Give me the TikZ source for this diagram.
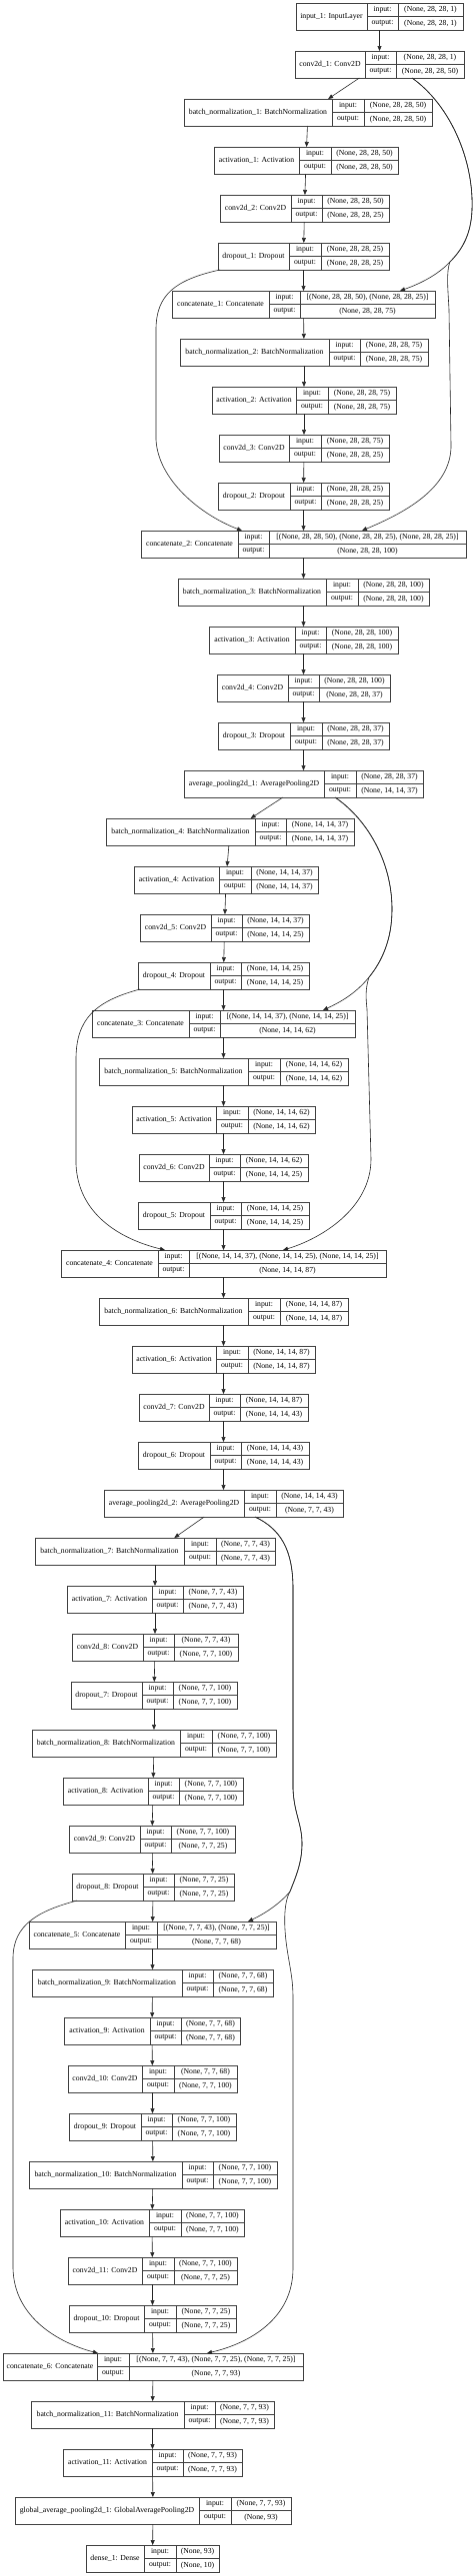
\documentclass[tikz,border=0pt]{standalone}
\usepackage{fontspec}
\setmainfont{Liberation Serif}
\usetikzlibrary{arrows.meta}
\tikzset{
  boxline/.style={draw=black!75, line width=0.7pt},
  layer/.style={boxline, inner sep=0pt, outer sep=0pt, minimum height=27pt},
  txt/.style={inner sep=0pt, font=\fontsize{7.7}{9}\selectfont},
  arr/.style={-{Triangle[length=5pt,width=4pt]}, line width=0.6pt, draw=black!85},
}
\newcommand\layerbox[9]{%
  \pgfmathsetmacro\ytop{3+48*#2}%
  \pgfmathsetmacro\ybot{\ytop+27}%
  \pgfmathsetmacro\ymid{\ytop+13.5}%
  \pgfmathsetmacro\yup{\ytop+6.75}%
  \pgfmathsetmacro\ylo{\ytop+20.25}%
  \node[layer, minimum width={(#6-#3)*1pt}] (#1) at ({(#3+#6)/2},\ymid) {};
  \draw[boxline] (#4,\ytop) -- (#4,\ybot) (#5,\ytop) -- (#5,\ybot) (#4,\ymid) -- (#6,\ymid);
  \node[txt] (#1-t) at ({(#3+#4)/2},\ymid) {#7};
  \node[txt] (#1-i) at ({(#4+#5)/2},\yup) {input:};
  \node[txt] (#1-o) at ({(#4+#5)/2},\ylo) {output:};
  \node[txt] (#1-iv) at ({(#5+#6)/2},\yup) {#8};
  \node[txt] (#1-ov) at ({(#5+#6)/2},\ylo) {#9};
}
\begin{document}
\begin{tikzpicture}[x=1pt,y=-1pt]
\useasboundingbox (0,0) rectangle (474,2578);
\layerbox{n0}{0}{296}{367}{398}{463}{input\_1: InputLayer}{(None, 28, 28, 1)}{(None, 28, 28, 1)}
\layerbox{n1}{1}{295}{365}{396}{464}{conv2d\_1: Conv2D}{(None, 28, 28, 1)}{(None, 28, 28, 50)}
\layerbox{n2}{2}{184}{332}{364}{432}{batch\_normalization\_1: BatchNormalization}{(None, 28, 28, 50)}{(None, 28, 28, 50)}
\layerbox{n3}{3}{214}{299}{331}{398}{activation\_1: Activation}{(None, 28, 28, 50)}{(None, 28, 28, 50)}
\layerbox{n4}{4}{220}{291}{322}{389}{conv2d\_2: Conv2D}{(None, 28, 28, 50)}{(None, 28, 28, 25)}
\layerbox{n5}{5}{218}{289}{321}{389}{dropout\_1: Dropout}{(None, 28, 28, 25)}{(None, 28, 28, 25)}
\layerbox{n6}{6}{172}{269}{300}{435}{concatenate\_1: Concatenate}{[(None, 28, 28, 50), (None, 28, 28, 25)]}{(None, 28, 28, 75)}
\layerbox{n7}{7}{180}{329}{360}{428}{batch\_normalization\_2: BatchNormalization}{(None, 28, 28, 75)}{(None, 28, 28, 75)}
\layerbox{n8}{8}{212}{296}{328}{396}{activation\_2: Activation}{(None, 28, 28, 75)}{(None, 28, 28, 75)}
\layerbox{n9}{9}{219}{289}{321}{389}{conv2d\_3: Conv2D}{(None, 28, 28, 75)}{(None, 28, 28, 25)}
\layerbox{n10}{10}{218}{290}{321}{389}{dropout\_2: Dropout}{(None, 28, 28, 25)}{(None, 28, 28, 25)}
\layerbox{n11}{11}{141}{238}{269}{466}{concatenate\_2: Concatenate}{[(None, 28, 28, 50), (None, 28, 28, 25), (None, 28, 28, 25)]}{(None, 28, 28, 100)}
\layerbox{n12}{12}{178}{326}{358}{429}{batch\_normalization\_3: BatchNormalization}{(None, 28, 28, 100)}{(None, 28, 28, 100)}
\layerbox{n13}{13}{209}{295}{326}{398}{activation\_3: Activation}{(None, 28, 28, 100)}{(None, 28, 28, 100)}
\layerbox{n14}{14}{217}{288}{319}{390}{conv2d\_4: Conv2D}{(None, 28, 28, 100)}{(None, 28, 28, 37)}
\layerbox{n15}{15}{218}{290}{322}{389}{dropout\_3: Dropout}{(None, 28, 28, 37)}{(None, 28, 28, 37)}
\layerbox{n16}{16}{184}{324}{356}{423}{average\_pooling2d\_1: AveragePooling2D}{(None, 28, 28, 37)}{(None, 14, 14, 37)}
\layerbox{n17}{17}{106}{255}{286}{354}{batch\_normalization\_4: BatchNormalization}{(None, 14, 14, 37)}{(None, 14, 14, 37)}
\layerbox{n18}{18}{134}{219}{251}{318}{activation\_4: Activation}{(None, 14, 14, 37)}{(None, 14, 14, 37)}
\layerbox{n19}{19}{140}{211}{242}{309}{conv2d\_5: Conv2D}{(None, 14, 14, 37)}{(None, 14, 14, 25)}
\layerbox{n20}{20}{138}{210}{241}{309}{dropout\_4: Dropout}{(None, 14, 14, 25)}{(None, 14, 14, 25)}
\layerbox{n21}{21}{92}{189}{220}{355}{concatenate\_3: Concatenate}{[(None, 14, 14, 37), (None, 14, 14, 25)]}{(None, 14, 14, 62)}
\layerbox{n22}{22}{99}{248}{280}{348}{batch\_normalization\_5: BatchNormalization}{(None, 14, 14, 62)}{(None, 14, 14, 62)}
\layerbox{n23}{23}{132}{216}{248}{315}{activation\_5: Activation}{(None, 14, 14, 62)}{(None, 14, 14, 62)}
\layerbox{n24}{24}{139}{209}{240}{308}{conv2d\_6: Conv2D}{(None, 14, 14, 62)}{(None, 14, 14, 25)}
\layerbox{n25}{25}{138}{210}{241}{309}{dropout\_5: Dropout}{(None, 14, 14, 25)}{(None, 14, 14, 25)}
\layerbox{n26}{26}{61}{158}{189}{386}{concatenate\_4: Concatenate}{[(None, 14, 14, 37), (None, 14, 14, 25), (None, 14, 14, 25)]}{(None, 14, 14, 87)}
\layerbox{n27}{27}{99}{248}{280}{348}{batch\_normalization\_6: BatchNormalization}{(None, 14, 14, 87)}{(None, 14, 14, 87)}
\layerbox{n28}{28}{132}{216}{248}{315}{activation\_6: Activation}{(None, 14, 14, 87)}{(None, 14, 14, 87)}
\layerbox{n29}{29}{139}{209}{240}{308}{conv2d\_7: Conv2D}{(None, 14, 14, 87)}{(None, 14, 14, 43)}
\layerbox{n30}{30}{138}{210}{241}{309}{dropout\_6: Dropout}{(None, 14, 14, 43)}{(None, 14, 14, 43)}
\layerbox{n31}{31}{104}{244}{276}{343}{average\_pooling2d\_2: AveragePooling2D}{(None, 14, 14, 43)}{(None, 7, 7, 43)}
\layerbox{n32}{32}{35}{184}{216}{275}{batch\_normalization\_7: BatchNormalization}{(None, 7, 7, 43)}{(None, 7, 7, 43)}
\layerbox{n33}{33}{67}{152}{183}{243}{activation\_7: Activation}{(None, 7, 7, 43)}{(None, 7, 7, 43)}
\layerbox{n34}{34}{72}{143}{174}{238}{conv2d\_8: Conv2D}{(None, 7, 7, 43)}{(None, 7, 7, 100)}
\layerbox{n35}{35}{71}{142}{173}{237}{dropout\_7: Dropout}{(None, 7, 7, 100)}{(None, 7, 7, 100)}
\layerbox{n36}{36}{32}{180}{212}{276}{batch\_normalization\_8: BatchNormalization}{(None, 7, 7, 100)}{(None, 7, 7, 100)}
\layerbox{n37}{37}{63}{148}{179}{243}{activation\_8: Activation}{(None, 7, 7, 100)}{(None, 7, 7, 100)}
\layerbox{n38}{38}{69}{140}{171}{235}{conv2d\_9: Conv2D}{(None, 7, 7, 100)}{(None, 7, 7, 25)}
\layerbox{n39}{39}{72}{143}{174}{234}{dropout\_8: Dropout}{(None, 7, 7, 25)}{(None, 7, 7, 25)}
\layerbox{n40}{40}{29}{125}{157}{276}{concatenate\_5: Concatenate}{[(None, 7, 7, 43), (None, 7, 7, 25)]}{(None, 7, 7, 68)}
\layerbox{n41}{41}{32}{182}{213}{273}{batch\_normalization\_9: BatchNormalization}{(None, 7, 7, 68)}{(None, 7, 7, 68)}
\layerbox{n42}{42}{64}{150}{181}{240}{activation\_9: Activation}{(None, 7, 7, 68)}{(None, 7, 7, 68)}
\layerbox{n43}{43}{68}{142}{174}{237}{conv2d\_10: Conv2D}{(None, 7, 7, 68)}{(None, 7, 7, 100)}
\layerbox{n44}{44}{69}{141}{172}{236}{dropout\_9: Dropout}{(None, 7, 7, 100)}{(None, 7, 7, 100)}
\layerbox{n45}{45}{29}{182}{213}{277}{batch\_normalization\_10: BatchNormalization}{(None, 7, 7, 100)}{(None, 7, 7, 100)}
\layerbox{n46}{46}{60}{149}{181}{244}{activation\_10: Activation}{(None, 7, 7, 100)}{(None, 7, 7, 100)}
\layerbox{n47}{47}{68}{142}{174}{237}{conv2d\_11: Conv2D}{(None, 7, 7, 100)}{(None, 7, 7, 25)}
\layerbox{n48}{48}{69}{144}{176}{236}{dropout\_10: Dropout}{(None, 7, 7, 25)}{(None, 7, 7, 25)}
\layerbox{n49}{49}{3}{97}{129}{303}{concatenate\_6: Concatenate}{[(None, 7, 7, 43), (None, 7, 7, 25), (None, 7, 7, 25)]}{(None, 7, 7, 93)}
\layerbox{n50}{50}{31}{184}{215}{274}{batch\_normalization\_11: BatchNormalization}{(None, 7, 7, 93)}{(None, 7, 7, 93)}
\layerbox{n51}{51}{63}{152}{183}{242}{activation\_11: Activation}{(None, 7, 7, 93)}{(None, 7, 7, 93)}
\layerbox{n52}{52}{15}{199}{231}{291}{global\_average\_pooling2d\_1: GlobalAveragePooling2D}{(None, 7, 7, 93)}{(None, 93)}
\layerbox{n53}{53}{86}{144}{176}{219}{dense\_1: Dense}{(None, 93)}{(None, 10)}
% main chain
\foreach \i [evaluate=\i as \j using int(\i+1)] in {0,...,52} {\draw[arr] (n\i) -- (n\j);}
% block 1 skips
\draw[arr] ([xshift=32.5pt]n1.south) .. controls (450,105) and (474,160) .. (472,210) .. controls (471,235) and (462,250) .. (450,262) .. controls (438,275) and (420,284) .. ([xshift=96.5pt]n6.north);
\draw[arr] ([xshift=32.5pt]n1.south) .. controls (450,105) and (474,160) .. (472,210) .. controls (471,235) and (462,250) .. (450,262) .. controls (446,272) and (448,290) .. (449,310) -- (451,445) .. controls (452,490) and (400,515) .. ([xshift=58.5pt]n11.north);
\draw[arr] ([xshift=-83.5pt]n5.south) .. controls (175,280) and (156,295) .. (156,330) -- (156,440) .. controls (158,480) and (200,515) .. ([xshift=-61.5pt]n11.north);
% block 2 skips
\draw[arr] ([xshift=31.5pt]n16.south) .. controls (365,818) and (392,860) .. (392,910) .. controls (392,940) and (382,962) .. (369,978) .. controls (355,995) and (340,1003) .. ([xshift=99.5pt]n21.north);
\draw[arr] ([xshift=31.5pt]n16.south) .. controls (365,818) and (392,860) .. (392,910) .. controls (392,940) and (382,962) .. (369,978) .. controls (365,990) and (366,1000) .. (367,1010) -- (371,1160) .. controls (371,1210) and (320,1240) .. ([xshift=59.5pt]n26.north);
\draw[arr] ([xshift=-83.5pt]n20.south) .. controls (95,1002) and (76,1020) .. (76,1060) -- (76,1165) .. controls (78,1215) and (120,1240) .. ([xshift=-58.5pt]n26.north);
% block 3 skips
\draw[arr] ([xshift=31.5pt]n31.south) .. controls (280,1530) and (293,1550) .. (293,1590) -- (293,1790) .. controls (294,1815) and (302,1825) .. (302,1845) .. controls (302,1865) and (295,1880) .. (290,1893) .. controls (280,1905) and (265,1915) .. ([xshift=95.5pt]n40.north);
\draw[arr] ([xshift=31.5pt]n31.south) .. controls (280,1530) and (293,1550) .. (293,1590) -- (293,1790) .. controls (294,1815) and (302,1825) .. (302,1845) .. controls (302,1865) and (295,1880) .. (290,1893) .. controls (283,1905) and (284,1930) .. (287,1950) .. controls (290,1970) and (293,1980) .. (293,2000) -- (293,2270) .. controls (293,2320) and (250,2345) .. ([xshift=54pt]n49.north);
\draw[arr] ([xshift=-76pt]n39.south) .. controls (40,1912) and (13,1925) .. (13,1960) -- (13,2270) .. controls (14,2320) and (60,2345) .. ([xshift=-55pt]n49.north);
\end{tikzpicture}
\end{document}
